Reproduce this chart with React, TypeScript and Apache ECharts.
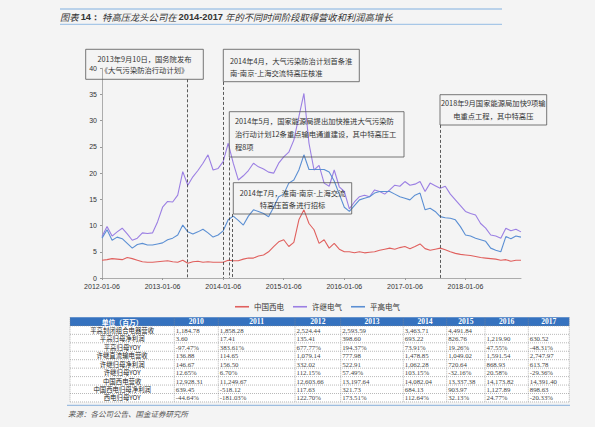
import React, { useEffect, useRef } from "react";
import * as echarts from "echarts";

const FONT = "'Noto Sans CJK SC', 'Noto Sans', sans-serif";
const BG = "#f4f4f4";

// x ticks (monthly index, every 12 months)
const xTickLabels = ["2012-01-06", "2013-01-06", "2014-01-06", "2015-01-06", "2016-01-06", "2017-01-06", "2018-01-06"];

// monthly values 2012-01 .. 2018-12
const xdValues = [
  3.4, 3.5, 3.7, 3.6, 3.5, 3.9, 3.7, 3.4, 3.1, 3.0, 3.0, 3.1,
  3.2, 3.3, 3.1, 3.0, 3.4, 2.8, 3.1, 3.2, 3.0, 3.1, 3.0, 3.0,
  3.0, 3.4, 3.3, 3.3, 3.6, 3.8, 3.8, 4.2, 4.4, 5.0, 6.0, 6.9,
  7.3, 6.0, 6.8, 11.1, 13.0, 10.4, 9.2, 6.6, 7.3, 5.7, 6.6, 5.5,
  5.0, 5.0, 4.8, 5.0, 4.8, 4.9, 5.0, 5.3, 5.5, 5.7, 5.5, 5.8,
  6.0, 5.6, 6.0, 6.5, 5.6, 5.3, 5.5, 5.7, 5.4, 5.0, 4.7, 4.5,
  4.4, 4.3, 4.1, 3.9, 3.8, 3.7, 3.6, 3.4, 3.5, 3.2, 3.4, 3.4,
];
const xjValues = [
  7.9, 9.8, 8.0, 8.8, 9.5, 8.4, 7.2, 7.6, 8.6, 8.5, 8.6, 10.7,
  13.5, 14.6, 14.5, 15.8, 20.3, 17.7, 19.3, 20.5, 21.9, 23.5, 20.6, 20.9,
  22.2, 25.7, 21.9, 18.7, 19.5, 20.5, 21.9, 21.2, 20.8, 20.2, 20.0, 21.9,
  23.1, 24.0, 26.3, 30.8, 35.2, 25.7, 20.6, 21.5, 18.1, 17.5, 20.6, 17.4,
  16.5, 13.2, 14.5, 15.5, 15.8, 15.5, 16.8, 16.5, 16.0, 16.8, 17.7, 17.5,
  18.4, 17.7, 17.9, 18.4, 16.5, 18.1, 17.6, 17.1, 17.5, 16.0, 14.9, 13.8,
  12.7, 12.3, 12.0, 10.4, 9.5, 8.2, 8.0, 7.6, 9.5, 9.0, 9.3, 8.8,
];
const pgValues = [
  7.6, 9.2, 7.2, 7.8, 7.5, 6.6, 5.7, 6.4, 6.6, 6.3, 6.3, 6.5,
  6.7, 7.3, 7.6, 8.2, 10.1, 8.8, 8.4, 8.8, 9.3, 8.6, 7.8, 8.2,
  9.0, 11.1, 11.8, 11.0, 10.1, 11.8, 13.0, 12.7, 12.3, 11.7, 13.5, 15.5,
  16.0, 18.1, 18.7, 20.6, 23.5, 20.7, 20.7, 20.7, 20.7, 20.2, 18.5, 16.0,
  13.5, 12.7, 13.8, 14.9, 15.2, 15.5, 16.2, 16.5, 16.5, 16.5, 16.0, 15.5,
  15.2, 14.9, 15.8, 16.2, 13.0, 13.3, 12.7, 11.7, 11.5, 11.4, 11.1, 9.8,
  8.2, 8.0, 7.6, 7.3, 7.0, 5.7, 5.3, 5.0, 7.9, 7.5, 8.0, 7.8,
];
const seriesNames = ["中国西电", "许继电气", "平高电气"];

// event markers: [x month index, top value]
const eventX = [16.8, 24.1, 25.3, 25.9, 67.1];
const eventTop = [37.9, 37.4, 23.0, 12.2, 29.2];

// table
const tableHeader = ["单位（百万）", "2010", "2011", "2012", "2013", "2014", "2015", "2016", "2017"];
const rowLabels = ["平高封闭组合电器营收", "平高归母净利润", "平高归母YOY", "许继直流输电营收", "许继归母净利润", "许继归母YOY", "中国西电营收", "中国西电归母净利润", "西电归母YOY"];
const pgRevenue = ["1,184.78", "1,858.28", "2,524.44", "2,593.59", "3,463.71", "4,491.84", "", ""];
const pgProfit = ["3.60", "17.41", "135.41", "398.60", "693.22", "826.76", "1,219.90", "630.52"];
const pgYoy = ["-97.47%", "383.61%", "677.77%", "194.37%", "73.91%", "19.26%", "47.55%", "-48.31%"];
const xjRevenue = ["136.88", "114.65", "1,079.14", "777.98", "1,478.85", "1,049.02", "1,591.54", "2,747.97"];
const xjProfit = ["146.67", "156.50", "332.02", "522.91", "1,062.28", "720.64", "868.93", "613.78"];
const xjYoy = ["12.65%", "6.70%", "112.15%", "57.49%", "103.15%", "-32.16%", "20.58%", "-29.36%"];
const xdRevenue = ["12,928.31", "11,249.67", "12,603.66", "13,197.64", "14,082.04", "13,337.38", "14,173.82", "14,391.40"];
const xdProfit = ["639.45", "-518.12", "117.63", "321.73", "684.13", "903.97", "1,127.89", "898.63"];
const xdYoy = ["-44.64%", "-181.03%", "122.70%", "173.51%", "112.64%", "32.13%", "24.77%", "-20.33%"];
const tableRows = [pgRevenue, pgProfit, pgYoy, xjRevenue, xjProfit, xjYoy, xdRevenue, xdProfit, xdYoy];

const colEdges = [70, 174.3, 218.3, 295, 340.7, 403.3, 446.7, 485, 528.3, 569.3];

function buildTable(): any[] {
  const els: any[] = [];
  const headTop = 317.3;
  const headH = 8.6;
  const rowH = 8.45;
  const left = colEdges[0];
  const right = colEdges[colEdges.length - 1];
  const bodyTop = headTop + headH;
  const bodyBottom = bodyTop + rowH * tableRows.length;
  els.push({ type: "rect", shape: { x: left, y: headTop, width: right - left, height: headH }, style: { fill: "#3572bf" } });
  els.push({ type: "rect", shape: { x: left, y: bodyTop, width: right - left, height: bodyBottom - bodyTop }, style: { fill: "#ffffff" } });
  for (let r = 0; r <= tableRows.length; r++) {
    const y = bodyTop + r * rowH;
    els.push({ type: "line", shape: { x1: left, y1: y, x2: right, y2: y }, style: { stroke: "#8a8a8a", lineWidth: 0.6, lineDash: [1, 1] } });
  }
  colEdges.forEach((x) => {
    els.push({ type: "line", shape: { x1: x, y1: headTop, x2: x, y2: bodyBottom }, style: { stroke: "#8a8a8a", lineWidth: 0.6, lineDash: [1, 1] } });
  });
  els.push({ type: "line", shape: { x1: 67, y1: bodyBottom + 3.5, x2: 570, y2: bodyBottom + 3.5 }, style: { stroke: "#9dbde0", lineWidth: 1.2 } });
  tableHeader.forEach((h, c) => {
    els.push({
      type: "text",
      x: (colEdges[c] + colEdges[c + 1]) / 2,
      y: headTop + headH / 2 + 0.2,
      style: { text: h, fill: "#ffffff", fontSize: c === 0 ? 6.8 : 7.6, lineHeight: 7.6, fontWeight: "bold", fontFamily: c === 0 ? FONT : "'Liberation Serif', serif", align: "center", verticalAlign: "middle" },
    });
  });
  tableRows.forEach((row, r) => {
    const cy = bodyTop + r * rowH + rowH / 2 + 0.2;
    els.push({
      type: "text",
      x: (colEdges[0] + colEdges[1]) / 2,
      y: cy,
      style: { text: rowLabels[r], fill: "#222", fontSize: 6.4, lineHeight: 7, fontFamily: FONT, align: "center", verticalAlign: "middle" },
    });
    row.forEach((v, c) => {
      if (!v) return;
      els.push({
        type: "text",
        x: colEdges[c + 1] + 1.5,
        y: cy,
        style: { text: v, fill: "#444", fontSize: 6.8, lineHeight: 7.4, fontFamily: "'Liberation Serif', serif", align: "left", verticalAlign: "middle" },
      });
    });
  });
  return els;
}

function box(x: number, y: number, w: number, h: number, lines: string[], align: "left" | "center", textX: number, lineYs: number[]): any[] {
  const els: any[] = [
    { type: "rect", z: 50, shape: { x, y, width: w, height: h }, style: { fill: "none", stroke: "#555", lineWidth: 0.8 } },
  ];
  lines.forEach((t, i) => {
    els.push({ type: "text", z: 51, x: textX, y: lineYs[i], style: { text: t, fill: "#333", fontSize: 7.3, fontFamily: FONT, align, verticalAlign: "middle" } });
  });
  return els;
}

export default function App() {
  const ref = useRef<HTMLDivElement>(null);
  useEffect(() => {
    if (!ref.current) return;
    const chart = echarts.init(ref.current, null, { renderer: "svg" });
    const toData = (arr: number[]) => arr.map((v, i) => [i, v]);
    const markData = eventX.map((x, i) => [{ coord: [x, eventTop[i]] }, { coord: [x, 0] }]);
    const colors = ["#e0605e", "#9b7fe3", "#5b8fd3"];
    const graphic: any[] = [
      { type: "line", shape: { x1: 60, y1: 9, x2: 502, y2: 9 }, style: { stroke: "#a7c7e7", lineWidth: 1.3 } },
      { type: "line", shape: { x1: 60, y1: 24.3, x2: 502, y2: 24.3 }, style: { stroke: "#a7c7e7", lineWidth: 1.3 } },
      {
        type: "text", x: 60, y: 16.5,
        style: {
          text: "{a|图表 }{b|14：}{a| 特高压龙头公司在 }{b|2014-2017}{a| 年的不同时间阶段取得营收和利润高增长}",
          verticalAlign: "middle", align: "left",
          rich: {
            a: { fontSize: 9.3, fontStyle: "italic", fontFamily: FONT, fill: "#333" },
            b: { fontSize: 9.3, fontWeight: "bold", fontFamily: "'Liberation Sans', Arial, sans-serif", fill: "#333" },
          },
        },
      },
      ...box(85.7, 49.3, 117.6, 30, ["2013年9月10日，国务院发布", "《大气污染防治行动计划》"], "center", 144.5, [58.5, 69.5]),
      ...box(223.3, 49.3, 136, 32.4, ["2014年4月，大气污染防治计划首条淮", "南-南京-上海交流特高压核准"], "left", 230, [61, 72.7]),
      ...box(229.3, 111.7, 174.7, 45.3, ["2014年5月，国家能源局提出加快推进大气污染防", "治行动计划12条重点输电通道建设，其中特高压工", "程8项"], "left", 235, [120.7, 133.7, 146.7]),
      ...box(233.3, 182.7, 118.4, 31.3, ["2014年7月，淮南-南京-上海交流", "特高压首条进行招标"], "center", 292.5, [192.7, 205]),
      ...box(440, 94.7, 106.7, 30.3, ["2018年9月国家能源局加快9项输", "电重点工程，其中特高压"], "center", 493.3, [103.3, 115.7]),
      ...buildTable(),
      {
        type: "text", x: 68, y: 413.5,
        style: { text: "来源：各公司公告、国金证券研究所", fill: "#555", fontSize: 7.5, fontStyle: "italic", fontFamily: FONT, verticalAlign: "middle" },
      },
    ];
    chart.setOption({
      animation: false,
      backgroundColor: BG,
      grid: { left: 102, top: 68.3, width: 419, height: 209.7, containLabel: false },
      legend: {
        left: 230, top: 298, itemWidth: 14, itemHeight: 1.6, itemGap: 9, icon: "rect",
        textStyle: { fontSize: 7.5, color: "#333", fontFamily: FONT },
        data: seriesNames,
      },
      xAxis: {
        type: "value", min: 0, max: 83, interval: 12,
        splitLine: { show: false },
        axisLine: { lineStyle: { color: "#999", width: 0.8 } },
        axisTick: { lineStyle: { color: "#999" }, length: 2 },
        axisLabel: {
          showMaxLabel: false, fontSize: 7, color: "#333", fontFamily: "'Liberation Sans', sans-serif", margin: 5,
          formatter: (v: number) => xTickLabels[Math.round(v / 12)] ?? "",
        },
      },
      yAxis: {
        type: "value", min: 0, max: 40, interval: 5,
        splitLine: { show: false },
        axisLine: { show: true, lineStyle: { color: "#999", width: 0.8 } },
        axisTick: { show: true, lineStyle: { color: "#999" }, length: 2 },
        axisLabel: { fontSize: 7, color: "#333", fontFamily: "'Liberation Sans', sans-serif", margin: 5 },
      },
      series: [
        {
          name: seriesNames[0], type: "line", data: toData(xdValues), symbol: "none", color: colors[0],
          lineStyle: { width: 1.1, color: colors[0] },
          markLine: {
            silent: true, symbol: ["none", "none"], label: { show: false },
            lineStyle: { type: [3, 2], color: "#333", width: 0.8 },
            data: markData,
          },
        },
        { name: seriesNames[1], type: "line", data: toData(xjValues), symbol: "none", color: colors[1], lineStyle: { width: 1.1, color: colors[1] } },
        { name: seriesNames[2], type: "line", data: toData(pgValues), symbol: "none", color: colors[2], lineStyle: { width: 1.1, color: colors[2] } },
      ],
      graphic,
    });
    return () => chart.dispose();
  }, []);
  return <div ref={ref} style={{ position: "absolute", left: 0, top: 0, width: 595, height: 427 }} />;
}
